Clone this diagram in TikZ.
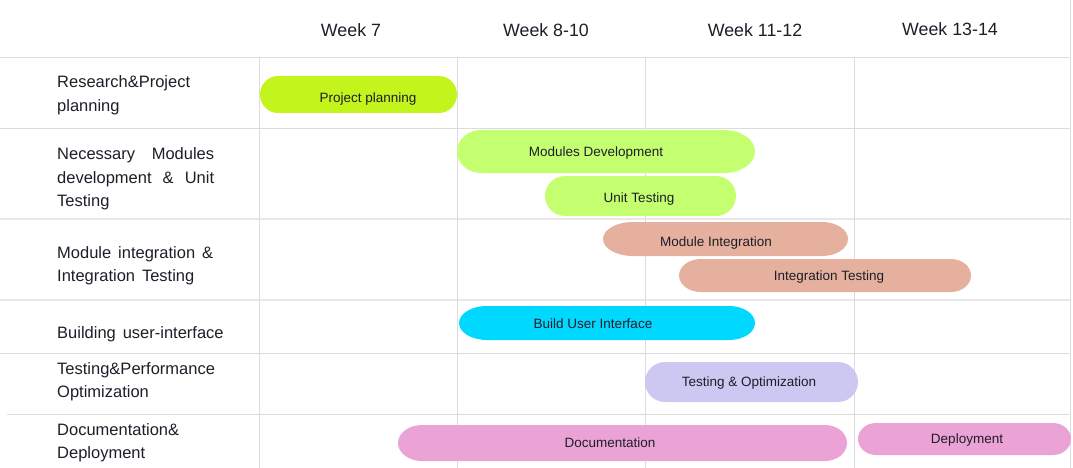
\documentclass[tikz,border=0pt]{standalone}
\usepackage{fontspec}
\setmainfont{Liberation Sans}
\newfontfamily\labfont[WordSpace=1.5]{Liberation Sans}
\definecolor{gridc}{RGB}{220,220,222}
\definecolor{gridt}{RGB}{232,232,234}
\definecolor{txt}{RGB}{30,30,40}
\definecolor{limec}{RGB}{195,245,28}
\definecolor{greenc}{RGB}{196,255,112}
\definecolor{salmonc}{RGB}{229,176,158}
\definecolor{cyanc}{RGB}{0,216,255}
\definecolor{lavc}{RGB}{204,200,242}
\definecolor{pinkc}{RGB}{235,163,214}
% #1 x1, #2 x2, #3 y centre, #4 y radius, #5 left x radius, #6 right x radius, #7 colour
\newcommand{\ganttpill}[7]{%
  \fill[#7] ({#1+#5},{#3-#4}) -- ({#2-#6},{#3-#4})
    arc[start angle=90,end angle=-90,x radius=#6pt,y radius=#4pt]
    -- ({#1+#5},{#3+#4})
    arc[start angle=270,end angle=90,x radius=#5pt,y radius=#4pt] -- cycle;}
\begin{document}
\begin{tikzpicture}[x=1pt,y=-1pt,
  gridline/.style={draw=gridc,line width=1pt},
  gridthick/.style={draw=gridt,line width=2pt},
  head/.style={text=txt,font=\fontsize{17.8}{20}\selectfont,inner sep=0pt,anchor=center},
  rowlab/.style={text=txt,font=\labfont\fontsize{16.5}{20}\selectfont,inner sep=0pt,anchor=base west},
  bartext/.style={text=txt,font=\fontsize{13.5}{16}\selectfont,inner sep=0pt,anchor=base}]
\useasboundingbox (0,0) rectangle (1073,468);
% grid
\draw[gridline] (0,57.5) -- (1070,57.5);
\draw[gridline] (0,129) -- (1070,129);
\draw[gridthick] (0,219) -- (1070,219);
\draw[gridthick] (0,300) -- (1070,300);
\draw[gridline] (0,353) -- (1070,353);
\draw[gridline] (7,414) -- (1070,414);
\foreach \xx in {259,457,645,854}{\draw[gridline] (\xx,57.5) -- (\xx,468);}
\draw[gridline] (1070,0) -- (1070,468);
% header
\node[head] (h1) at (351,30) {Week 7};
\node[head] (h2) at (546,30) {Week 8-10};
\node[head] (h3) at (755,30) {Week 11-12};
\node[head] (h4) at (950,29) {Week 13-14};
% row labels
\node[rowlab] (r1a) at (57,88) {Research\&Project};
\node[rowlab] (r1b) at (57,112) {planning};
\node[rowlab] (r2a) at (57,160) {\makebox[157pt][s]{Necessary Modules}};
\node[rowlab] (r2b) at (57,183) {\makebox[157pt][s]{development \& Unit}};
\node[rowlab] (r2c) at (57,206) {Testing};
\node[rowlab] (r3a) at (57,258) {Module integration \&};
\node[rowlab] (r3b) at (57,281) {Integration Testing};
\node[rowlab] (r4a) at (57,338) {Building user-interface};
\node[rowlab] (r5a) at (57,374) {Testing\&Performance};
\node[rowlab] (r5b) at (57,397) {Optimization};
\node[rowlab] (r6a) at (57,435) {Documentation\&};
\node[rowlab] (r6b) at (57,458) {Deployment};
% bars
\ganttpill{260}{457}{94.5}{18.5}{18}{18}{limec}
\ganttpill{457}{755}{151.5}{21.5}{24}{31}{greenc}
\ganttpill{545}{736}{196}{20}{20}{20}{greenc}
\ganttpill{603}{848}{239}{17}{30}{26}{salmonc}
\ganttpill{679}{971}{275.5}{16.5}{22}{20}{salmonc}
\ganttpill{459}{755}{323}{17}{28}{26}{cyanc}
\ganttpill{645}{858}{382}{20}{20}{20}{lavc}
\ganttpill{398}{847}{443}{18}{24}{22}{pinkc}
\ganttpill{858}{1071}{439}{16}{18}{18}{pinkc}
% bar texts
\node[bartext] (b1) at (368,103) {Project planning};
\node[bartext] (b2) at (596,157) {Modules Development};
\node[bartext] (b3) at (639,202) {Unit Testing};
\node[bartext] (b4) at (716,246) {Module Integration};
\node[bartext] (b5) at (829,280) {Integration Testing};
\node[bartext] (b6) at (593,328) {Build User Interface};
\node[bartext] (b7) at (749,386) {Testing \& Optimization};
\node[bartext] (b8) at (610,447) {Documentation};
\node[bartext] (b9) at (967,443) {Deployment};
\end{tikzpicture}
\end{document}
